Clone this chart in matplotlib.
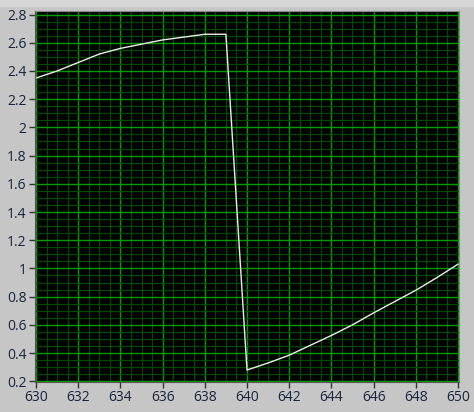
import numpy as np
import matplotlib
matplotlib.use('Agg')
import matplotlib.pyplot as plt
from matplotlib.ticker import MultipleLocator

# values (x step = 1)
x = [630, 631, 632, 633, 634, 635, 636, 637, 638, 639,
     640, 641, 642, 643, 644, 645, 646, 647, 648, 649, 650]
y = [2.35, 2.40, 2.46, 2.52, 2.56, 2.59, 2.62, 2.64, 2.66, 2.66,
     0.28, 0.33, 0.385, 0.455, 0.525, 0.60, 0.685, 0.765, 0.845, 0.935, 1.03]

xticks = np.arange(630, 651, 2)
yticks = np.round(np.arange(0.2, 2.81, 0.2), 1)
ytick_labels = ['0.2', '0.4', '0.6', '0.8', '1', '1.2', '1.4', '1.6',
                '1.8', '2', '2.2', '2.4', '2.6', '2.8']

plt.rcParams['font.family'] = ['Open Sans', 'DejaVu Sans']

W, H = 474, 412
fig = plt.figure(figsize=(W / 100, H / 100), dpi=100, facecolor='#c6c6c6')
# lighter strip along the top
fig.patches.append(plt.Rectangle((0, 1 - 7 / H), 1, 7 / H, transform=fig.transFigure,
                                 facecolor='#d6d6d6', edgecolor='none'))

ax = fig.add_axes([35 / W, (H - 382) / H, 424 / W, 371 / H])
ax.set_facecolor('black')

ax.set_xlim(629.95, 650.05)
ax.set_ylim(0.195, 2.825)

ax.set_xticks(xticks)
ax.set_xticklabels([str(v) for v in xticks])
ax.set_yticks(yticks)
ax.set_yticklabels(ytick_labels)
ax.xaxis.set_minor_locator(MultipleLocator(0.5))
ax.yaxis.set_minor_locator(MultipleLocator(0.05))

ax.grid(which='minor', color='#004a00', linewidth=0.9)
ax.grid(which='major', color='#009c00', linewidth=1.0)
ax.set_axisbelow(True)

ax.tick_params(which='major', direction='out', length=4, width=1, color='#333333',
               labelcolor='#18243e', labelsize=10, pad=2)
ax.tick_params(which='minor', length=0)

for side in ['left', 'bottom']:
    ax.spines[side].set_color('#555555')
for side in ['top', 'right']:
    ax.spines[side].set_color('#888888')

ax.plot(x, y, color='#ececec', linewidth=1.0)

plt.savefig('out.png', dpi=100, facecolor=fig.get_facecolor())
